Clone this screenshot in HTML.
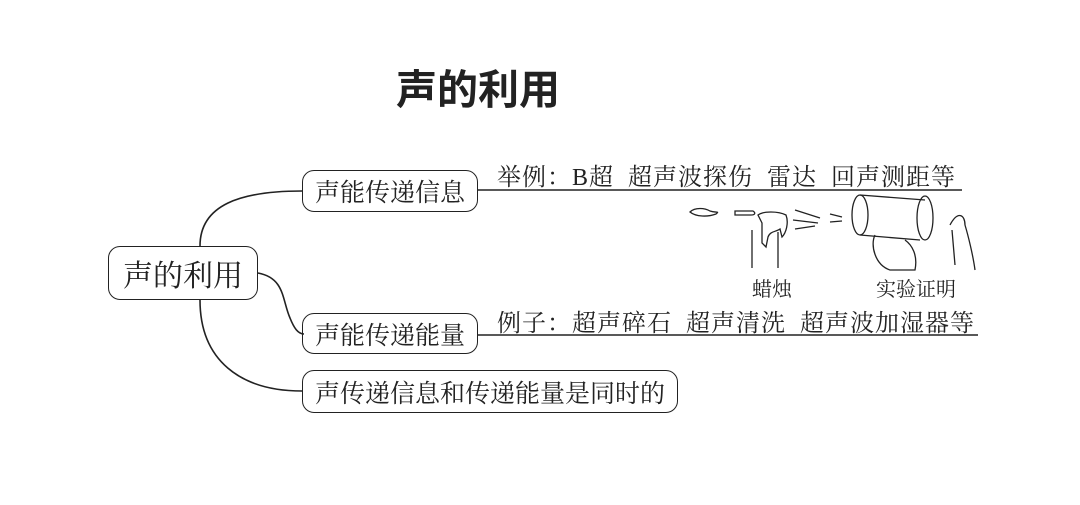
<!DOCTYPE html>
<html><head><meta charset="utf-8"><style>
body{margin:0;background:#fff;width:1080px;height:505px;overflow:hidden;position:relative;font-family:"Liberation Serif","Noto Serif CJK SC",serif;color:#222}
.t{position:absolute;white-space:nowrap}
.box{position:absolute;border:1.6px solid #222;border-radius:12px;box-sizing:border-box;display:flex;align-items:center;justify-content:center;white-space:nowrap}
</style></head><body>
<div class="t" style="left:396px;top:56px;font-size:41px;font-weight:bold;font-family:'Noto Sans CJK SC',sans-serif">声的利用</div>
<svg width="1080" height="505" style="position:absolute;left:0;top:0" fill="none" stroke="#222" stroke-width="1.6">
<path d="M200 246 C200 205 240 191 302 191"/>
<path d="M258 273 C285 278 282 300 290 318 C294 328 298 334 304 334"/>
<path d="M200 300 C200 360 240 391 302 391"/>
<path d="M478 190 L962 190"/>
<path d="M478 335 L978 335"/>
<g stroke-width="1.3">
<path d="M690 212 c5-5 15-4 20-1 c6 2 10 0 6 3 c-8 3-20 3-26-2z"/>
<path d="M735 211 l18 0 c3 2 2 4-2 4 l-16 0 z"/>
<path d="M758 215 c5-4 20-4 28 0 c3 8 0 18-4 22 l-2-8 c-4 3-10 2-12 8 l-2 10 l-4-4 l0-20z"/>
<path d="M752 230 L752 268 M778 232 L778 268"/>
<path d="M795 210 l25 8 M793 220 l25 3 M795 229 l20-3 M830 214 l12 3 M830 222 l12-1"/>
<ellipse cx="860" cy="215" rx="8" ry="20"/>
<path d="M860 195 L925 200 M860 235 L920 240"/>
<ellipse cx="925" cy="218" rx="8" ry="22"/>
<path d="M875 235 c-5 10 0 30 15 35 l25 0 c3-15-3-25-10-30"/>
<path d="M950 225 c8-15 15-10 15 0 c3 10 8 30 10 45 M952 230 l3 35"/>
</g>
</svg>
<div class="box" style="left:108px;top:246px;width:150px;height:54px;font-size:30px">声的利用</div>
<div class="box" style="left:302px;top:170px;width:176px;height:42px;font-size:25px">声能传递信息</div>
<div class="box" style="left:302px;top:313px;width:176px;height:41px;font-size:25px">声能传递能量</div>
<div class="box" style="left:302px;top:370px;width:376px;height:43px;font-size:25px">声传递信息和传递能量是同时的</div>
<div class="t" style="left:497px;top:157px;font-size:24px;letter-spacing:1px">举例：B超&nbsp; 超声波探伤&nbsp; 雷达&nbsp; 回声测距等</div>
<div class="t" style="left:497px;top:303px;font-size:24px;letter-spacing:1px">例子：超声碎石&nbsp; 超声清洗&nbsp; 超声波加湿器等</div>
<div class="t" style="left:752px;top:273px;font-size:20px">蜡烛</div>
<div class="t" style="left:876px;top:273px;font-size:20px">实验证明</div>
</body></html>
